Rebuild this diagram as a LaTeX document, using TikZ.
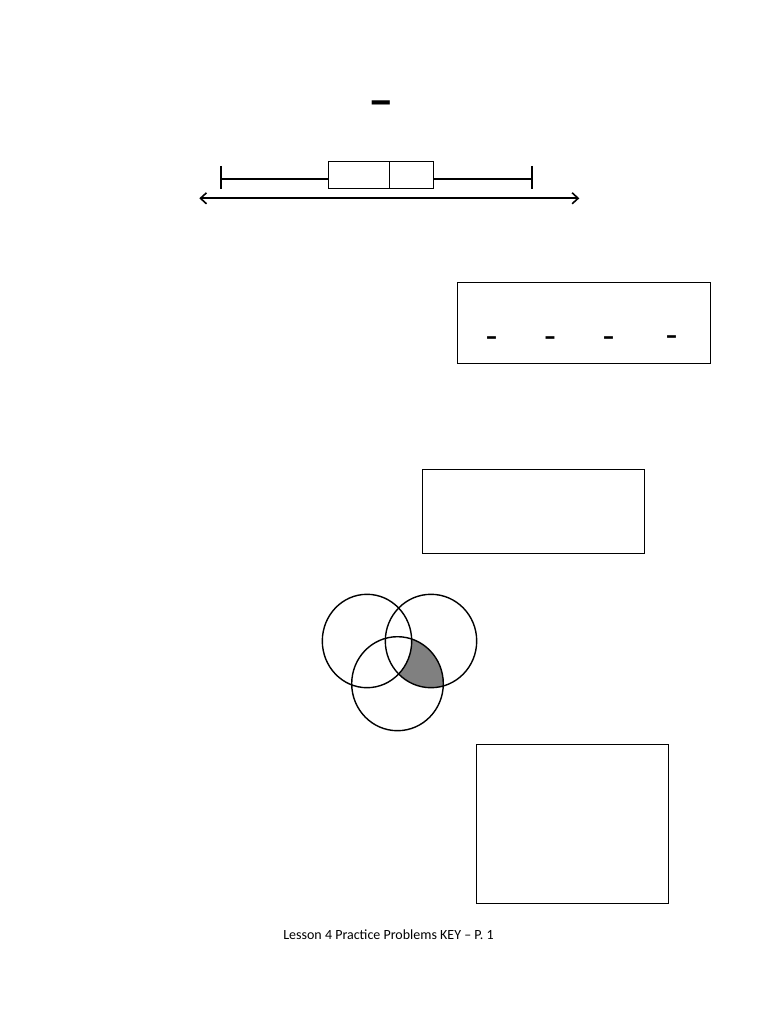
\documentclass[tikz,border=0pt]{standalone}
\usepackage{fontspec}
\setmainfont{Carlito}
\usetikzlibrary{arrows.meta}
\begin{document}
\begin{tikzpicture}[x=1pt,y=-1pt,
  thinbox/.style={draw=black,line width=1pt},
  whisk/.style={draw=black,line width=2pt},
  venn/.style={draw=black,line width=1.4pt},
  dashtext/.style={inner sep=0pt,anchor=base,font=\fontsize{20}{22}\selectfont\bfseries}]
\useasboundingbox[fill=white] (0,0) rectangle (768,1024);
% top dash
\node[inner sep=0pt,anchor=base,font=\fontsize{32}{34}\selectfont\bfseries] (topdash) at (381,117) {\scalebox{1.6}[1.5]{–}};
% box plot
\coordinate (lmin) at (221,178.7);
\coordinate (rmax) at (532,178.7);
\node[thinbox,minimum width=104.7pt,minimum height=27.3pt,inner sep=0pt,anchor=south west] (iqr) at (328.3,189.3) {};
\draw[whisk] (221,166) coordinate (lc1) -- (221,189.3) coordinate (lc2);
\draw[whisk] (532,166) coordinate (rc1) -- (532,189.3) coordinate (rc2);
\draw[whisk] (lmin) -- (iqr.west |- lmin);
\draw[whisk] (iqr.east |- rmax) -- (rmax);
\draw[line width=1.5pt] (389.3,162) coordinate (m1) -- (389.3,189.3) coordinate (m2);
\coordinate (nl1) at (199.3,198.3);
\coordinate (nl2) at (579.3,198.3);
\draw[line width=1.6pt,<->,>={Straight Barb[length=6pt,width=11pt,line width=1.6pt]}] (nl1) -- (nl2);
% box 2
\draw[thinbox] (457.3,282.3) rectangle (710.7,363.7);
\node[dashtext] (d1) at (491.7,346) {\scalebox{1.25}[1.5]{–}};
\node[dashtext] (d2) at (550,346) {\scalebox{1.25}[1.5]{–}};
\node[dashtext] (d3) at (608.7,346) {\scalebox{1.25}[1.5]{–}};
\node[dashtext] (d4) at (671.7,345) {\scalebox{1.25}[1.5]{–}};
% box 3
\draw[thinbox] (422,469) rectangle (644,553);
% venn
\begin{scope}
  \clip (431,641) ellipse (45.7 and 46.7);
  \clip (397.5,683.7) ellipse (45.8 and 47);
  \fill[even odd rule,fill=black!50] (367,641) ellipse (44.7 and 46.7) (300,580) rectangle (500,750);
\end{scope}
\draw[venn] (367,641) ellipse (44.7 and 46.7);
\draw[venn] (431,641) ellipse (45.7 and 46.7);
\draw[venn] (397.5,683.7) ellipse (45.8 and 47);
% box 4
\draw[thinbox] (476,744) rectangle (668,903);
% footer
\node[inner sep=0pt,font=\fontsize{14}{16}\selectfont] (footer) at (388.5,935) {Lesson 4 Practice Problems KEY – P. 1};
\end{tikzpicture}
\end{document}
